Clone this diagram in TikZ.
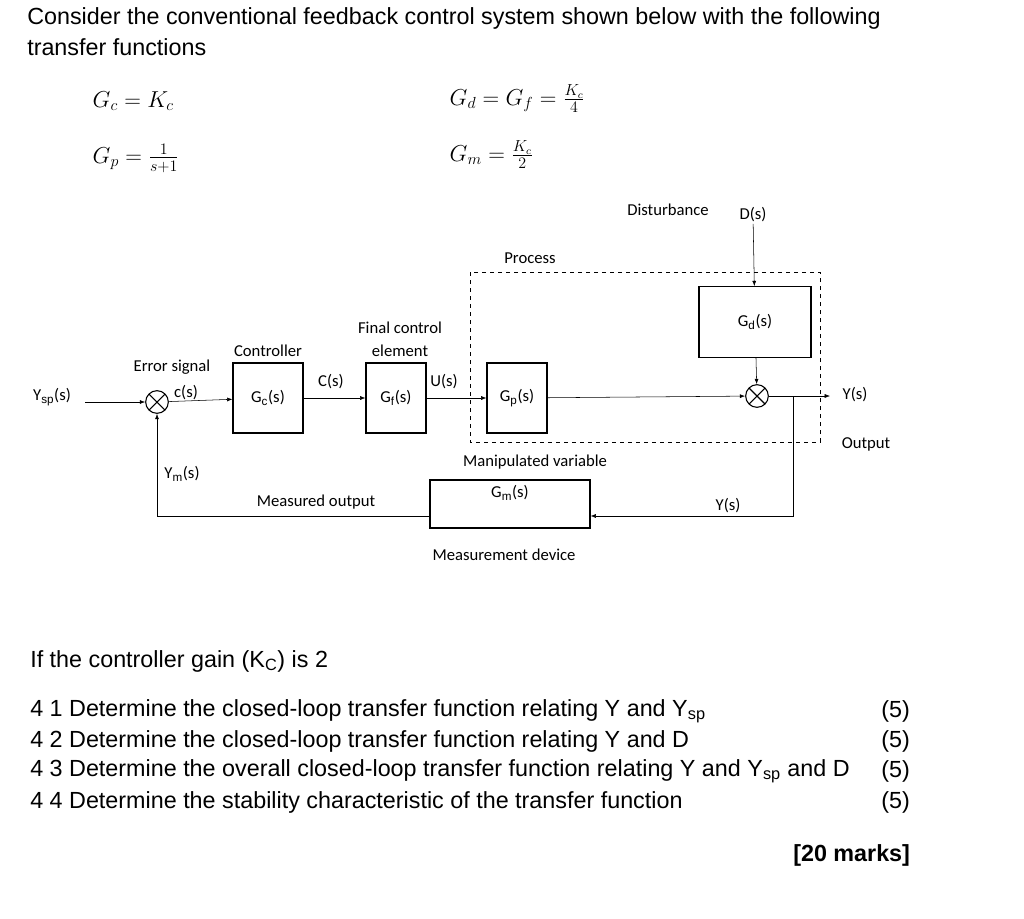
\documentclass[tikz,border=0pt]{standalone}
\usepackage{fontspec}
\setmainfont{Liberation Sans}
\newfontfamily\blockfont{Carlito}
\usetikzlibrary{positioning,arrows.meta}

\begin{document}
\begin{tikzpicture}[x=0.75pt,y=-0.75pt,
    block/.style={draw, thick, inner sep=0pt},
    lbl/.style={font=\blockfont\fontsize{12.5}{14}\selectfont, inner sep=1pt},
    txt/.style={font=\fontsize{17.5}{20}\selectfont, anchor=west, inner sep=0pt},
    eq/.style={anchor=west, font=\fontsize{17}{20}\selectfont},
    sig/.style={-{Latex[length=4pt,width=3pt]}, thin},
    junction/.style={draw, thick, circle, minimum size=17pt, inner sep=0pt,
        path picture={\draw (path picture bounding box.north west) -- (path picture bounding box.south east)
                      (path picture bounding box.north east) -- (path picture bounding box.south west);}}]
  \useasboundingbox (0,0) rectangle (1024,918);

  % question text
  \node[txt] (intro1) at (27,18) {Consider the conventional feedback control system shown below with the following};
  \node[txt] (intro2) at (27,47) {transfer functions};

  \node[eq] (eqgc) at (88,101) {$G_c = K_c$};
  \node[eq] (eqgd) at (445,99) {$G_d = G_f = \frac{K_c}{4}$};
  \node[eq] (eqgp) at (88,158) {$G_p = \frac{1}{s+1}$};
  \node[eq] (eqgm) at (445,155) {$G_m = \frac{K_c}{2}$};

  % process boundary
  \draw[dashed, thin] (470,272) rectangle (820,442);

  % blocks
  \node[block, minimum width=52.5pt, minimum height=52.5pt] (gc) at (268,398) {};
  \node[lbl] at (gc) {G$_\mathrm{c}$(s)};
  \node[block, minimum width=45pt, minimum height=52.5pt] (gf) at (396,398) {};
  \node[lbl] at (gf) {G$_\mathrm{f}$(s)};
  \node[block, minimum width=45pt, minimum height=52.5pt] (gp) at (517,398) {};
  \node[lbl] at (gp) {G$_\mathrm{p}$(s)};
  \node[block, minimum width=84pt, minimum height=53pt] (gd) at (755,322) {};
  \node[lbl] at (gd) {G$_\mathrm{d}$(s)};
  \node[block, minimum width=120pt, minimum height=36pt] (gm) at (510,504) {};
  \node[lbl] at (510,493) {G$_\mathrm{m}$(s)};

  \node[junction] (sum1) at (157,402) {};
  \node[junction] (sum2) at (757,396) {};

  % signal labels
  \node[lbl] (ysp) at (52,397) {Y$_\mathrm{sp}$(s)};
  \node[lbl] (ds) at (753,215) {D(s)};
  \node[lbl] (ys) at (855,395) {Y(s)};
  \coordinate (yin) at (85,402);
  \coordinate (yout) at (830,396);
  \coordinate (branch) at (793,396);
  \coordinate (fbr) at (793,516);
  \coordinate (fbl) at (157,516);

  % connectors
  \draw[sig] (yin) -- (sum1);
  \draw[sig] (sum1) -- (gc);
  \draw[sig] (gc) -- (gf);
  \draw[sig] (gf) -- (gp);
  \draw[sig] (gp) -- (sum2);
  \draw[sig] (ds) -- (gd);
  \draw[sig] (gd) -- (sum2);
  \draw[sig] (sum2) -- (yout);
  \draw[sig] (branch) -- (fbr) -- (gm.east |- fbr);
  \draw[sig] (gm.west |- fbl) -- (fbl) -- (sum1);

  % annotations
  \node[lbl] at (172,367) {Error signal};
  \node[lbl] at (186,393) {c(s)};
  \node[lbl] at (268,351) {Controller};
  \node[lbl] at (331,382) {C(s)};
  \node[lbl] at (400,328) {Final control};
  \node[lbl] at (400,351) {element};
  \node[lbl] at (444,382) {U(s)};
  \node[lbl] at (530,258) {Process};
  \node[lbl] at (668,210) {Disturbance};
  \node[lbl] at (866,444) {Output};
  \node[lbl] at (535,462) {Manipulated variable};
  \node[lbl] at (182,474) {Y$_\mathrm{m}$(s)};
  \node[lbl] at (316,502) {Measured output};
  \node[lbl] at (728,506) {Y(s)};
  \node[lbl] at (504,555) {Measurement device};

  % questions
  \node[txt] (q0) at (30,661) {If the controller gain (K\textsubscript{C}) is 2};
  \node[txt] (q1) at (30,711) {4 1 Determine the closed-loop transfer function relating Y and Y\textsubscript{sp}};
  \node[txt] (q2) at (30,741) {4 2 Determine the closed-loop transfer function relating Y and D};
  \node[txt] (q3) at (30,771) {4 3 Determine the overall closed-loop transfer function relating Y and Y\textsubscript{sp} and D};
  \node[txt] (q4) at (30,802) {4 4 Determine the stability characteristic of the transfer function};
  \foreach \y in {711,741,771,802}
    \node[txt] at (881,\y) {(5)};
  \node[txt, font=\fontsize{17.5}{20}\selectfont\bfseries] (marks) at (793,855) {[20 marks]};
\end{tikzpicture}
\end{document}
